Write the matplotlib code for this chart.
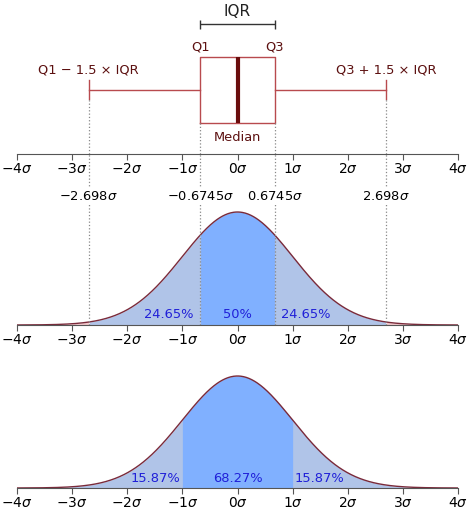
import numpy as np
import matplotlib
matplotlib.use('Agg')
import matplotlib.pyplot as plt

# quartiles / whiskers of a standard normal, in units of sigma
q1, med, q3 = -0.6745, 0.0, 0.6745
whislo, whishi = -2.698, 2.698
tick_vals = [-4, -3, -2, -1, 0, 1, 2, 3, 4]
tick_labels = [r'$-4\sigma$', r'$-3\sigma$', r'$-2\sigma$', r'$-1\sigma$', r'$0\sigma$',
               r'$1\sigma$', r'$2\sigma$', r'$3\sigma$', r'$4\sigma$']
mark_labels = [r'$-2.698\sigma$', r'$-0.6745\sigma$', r'$0.6745\sigma$', r'$2.698\sigma$']
iqr_pct = ['24.65%', '50%', '24.65%']
sd_pct = ['15.87%', '68.27%', '15.87%']

RED = '#b84a4e'
DARK = '#6a0d0d'
TXT = '#5c1010'
BLUE = '#2020d8'
LIGHT = '#b0c4e8'
MID = '#80b0ff'
GREY = '#555555'
FS = 9.4

def pdf(x):
    return np.exp(-x**2 / 2) / np.sqrt(2 * np.pi)

fig = plt.figure(figsize=(4.74, 5.16), dpi=100)
L, W = 17/474, 441/474
ax1 = fig.add_axes([L, 362/516, W, 154/516])
ax2 = fig.add_axes([L, 191/516, W, 171/516])
ax3 = fig.add_axes([L, 28/516, W, 128/516])

def style(ax):
    ax.set_xlim(-4, 4)
    for s in ['top', 'left', 'right']:
        ax.spines[s].set_visible(False)
    ax.spines['bottom'].set_color(GREY)
    ax.set_yticks([])
    ax.set_xticks(tick_vals)
    ax.set_xticklabels(tick_labels, fontsize=10)
    ax.tick_params(axis='x', colors='black', length=4, color=GREY, pad=2)
    ax.patch.set_alpha(0)

# ---- boxplot panel
style(ax1)
ax1.set_ylim(0, 1)
pos = 0.416
stats = [{'med': med, 'q1': q1, 'q3': q3, 'whislo': whislo, 'whishi': whishi, 'fliers': []}]
ax1.bxp(stats, positions=[pos], widths=0.43, vert=False, capwidths=0.124,
        manage_ticks=False, showfliers=False,
        boxprops=dict(color=RED, linewidth=1),
        whiskerprops=dict(color=RED, linewidth=1),
        capprops=dict(color=RED, linewidth=1),
        medianprops=dict(color=DARK, linewidth=3))
ax1.vlines([q1, q3], 0, pos - 0.215, colors='#888888', linestyles=':', linewidth=0.9)
ax1.vlines([whislo, whishi], 0, pos - 0.062, colors='#888888', linestyles=':', linewidth=0.9)
# IQR bracket
ax1.hlines(0.844, q1, q3, colors='#333333', linewidth=1)
ax1.vlines([q1, q3], 0.812, 0.872, colors='#333333', linewidth=1)
ax1.text(0, 0.925, 'IQR', ha='center', va='center', fontsize=11, color='#222222')
ax1.text(q1, 0.695, 'Q1', ha='center', va='center', fontsize=FS, color=TXT)
ax1.text(q3, 0.695, 'Q3', ha='center', va='center', fontsize=FS, color=TXT)
ax1.text(whislo, 0.545, 'Q1 \u2212 1.5 \u00d7 IQR', ha='center', va='center', fontsize=FS, color=TXT)
ax1.text(whishi, 0.545, 'Q3 + 1.5 \u00d7 IQR', ha='center', va='center', fontsize=FS, color=TXT)
ax1.text(med, 0.104, 'Median', ha='center', va='center', fontsize=FS, color=TXT)

x = np.linspace(-4, 4, 801)
y = pdf(x)

# ---- IQR pdf panel
style(ax2)
ax2.set_ylim(0, 171/113*pdf(0))
ax2.fill_between(x, y, where=(x >= whislo) & (x <= whishi), color=LIGHT, linewidth=0)
ax2.fill_between(x, y, where=(x >= q1) & (x <= q3), color=MID, linewidth=0)
ax2.fill_between(x, y, where=(x <= whislo), color='#f2c8cc', linewidth=0)
ax2.fill_between(x, y, where=(x >= whishi), color='#f2c8cc', linewidth=0)
ax2.plot(x, y, color='#7a2a3a', linewidth=1)
marks = [whislo, q1, q3, whishi]
ax2.vlines(marks, 0, 0.6037, colors='#888888', linestyles=':', linewidth=0.9, zorder=3)
for m, lab in zip(marks, mark_labels):
    ax2.text(m, 0.455, lab, ha='center', va='center', fontsize=FS, zorder=4,
             bbox=dict(fc='white', ec='none', pad=1))
for xp, lab in zip([-1.24, 0, 1.24], iqr_pct):
    ax2.text(xp, 0.013, lab, ha='center', va='bottom', fontsize=FS, color=BLUE)

# ---- +/- 1 sigma panel
style(ax3)
ax3.set_ylim(0, 128/112*pdf(0))
ax3.fill_between(x, y, color=LIGHT, linewidth=0)
ax3.fill_between(x, y, where=(x >= -1) & (x <= 1), color=MID, linewidth=0)
ax3.plot(x, y, color='#7a2a3a', linewidth=1)
for xp, lab in zip([-1.48, 0, 1.48], sd_pct):
    ax3.text(xp, 0.011, lab, ha='center', va='bottom', fontsize=FS, color=BLUE)

fig.savefig('out.png', dpi=100)
